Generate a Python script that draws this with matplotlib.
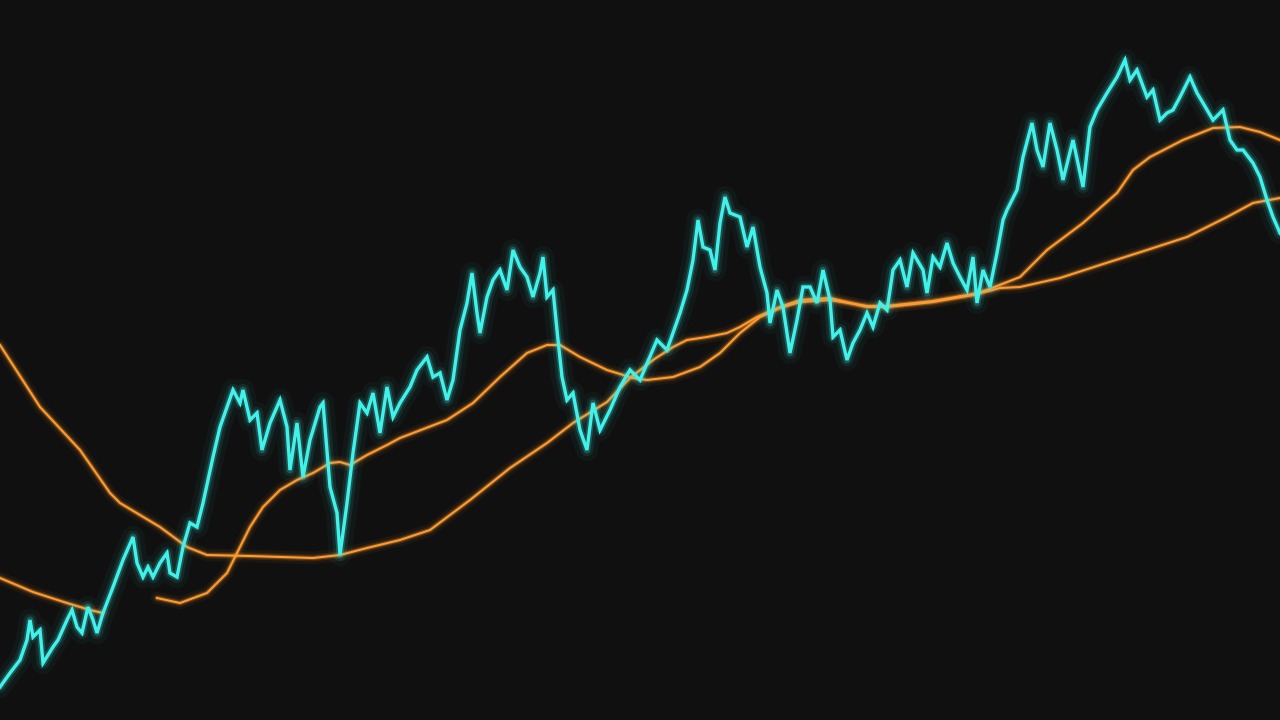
import matplotlib
matplotlib.use("Agg")
import matplotlib.pyplot as plt

# price trace (x position, screen height; axis is inverted)
price_x = [0, 10, 20, 27, 30, 33, 40, 43, 53, 58, 67, 72, 77, 82, 88, 93, 97, 103,
           113, 123, 133, 137, 143, 148, 153, 160, 167, 170, 177, 183, 190, 197, 203,
           208, 213, 220, 227, 233, 240, 243, 250, 257, 262, 270, 280, 287, 290, 297,
           303, 310, 320, 323, 330, 337, 340, 347, 353, 360, 367, 373, 380, 387, 393,
           400, 410, 417, 427, 433, 440, 447, 453, 460, 467, 472, 477, 480, 487, 493,
           500, 507, 513, 520, 527, 533, 540, 543, 547, 553, 558, 562, 567, 573, 580,
           587, 593, 600, 610, 620, 630, 640, 657, 667, 680, 687, 693, 698, 703, 710,
           715, 720, 725, 730, 740, 747, 753, 760, 767, 770, 777, 783, 790, 797, 803,
           810, 817, 823, 830, 833, 840, 847, 853, 860, 867, 873, 880, 887, 893, 900,
           907, 913, 923, 927, 933, 940, 947, 953, 960, 967, 973, 977, 983, 990, 997,
           1003, 1007, 1017, 1023, 1032, 1037, 1043, 1050, 1057, 1063, 1073, 1083, 1090,
           1097, 1107, 1117, 1125, 1130, 1137, 1147, 1153, 1160, 1167, 1173, 1180, 1190,
           1197, 1203, 1213, 1223, 1230, 1237, 1243, 1253, 1260, 1267, 1273, 1280]
price_y = [687, 673, 660, 640, 620, 637, 630, 663, 647, 640, 620, 610, 627, 633, 607, 620, 633, 613,
           587, 560, 537, 563, 577, 567, 577, 563, 553, 573, 577, 547, 523, 527, 503,
           480, 457, 427, 407, 390, 403, 390, 420, 413, 450, 423, 400, 427, 470, 423,
           477, 440, 407, 403, 487, 513, 555, 503, 453, 403, 413, 393, 433, 387, 417,
           403, 387, 370, 357, 377, 373, 400, 380, 330, 303, 273, 313, 333, 297, 280,
           270, 290, 250, 267, 277, 297, 273, 257, 297, 290, 340, 377, 400, 393, 430,
           450, 403, 430, 410, 387, 370, 380, 340, 350, 313, 290, 260, 220, 247, 250,
           270, 223, 197, 213, 217, 247, 227, 267, 293, 323, 290, 307, 353, 320, 287,
           287, 303, 270, 300, 337, 330, 360, 343, 330, 313, 327, 303, 310, 270, 260,
           287, 253, 270, 293, 257, 267, 243, 263, 277, 290, 257, 303, 270, 287, 253,
           220, 210, 190, 157, 123, 150, 167, 123, 150, 180, 140, 187, 127,
           110, 93, 77, 60, 80, 70, 97, 90, 120, 113, 110, 97, 77,
           93, 103, 120, 110, 140, 150, 150, 163, 177, 200, 217, 233]

# slow moving average (starts top left)
slow_x = [0, 40, 80, 110, 120, 160, 187, 207, 250, 313, 340, 367, 400, 430, 470, 510,
          547, 573, 607, 630, 653, 673, 687, 707, 727, 740, 757, 780, 800, 830, 867,
          887, 933, 973, 1000, 1020, 1060, 1100, 1147, 1187, 1227, 1253, 1280]
slow_y = [345, 407, 450, 493, 503, 527, 547, 555, 556, 558, 555, 548, 540, 530, 500, 468,
          443, 423, 402, 378, 360, 347, 340, 337, 333, 327, 317, 307, 300, 298, 307,
          307, 302, 295, 288, 287, 278, 265, 250, 237, 217, 203, 198]

# fast moving average (starts near bottom left)
fast_x = [157, 180, 207, 227, 250, 263, 280, 297, 313, 330, 340, 350, 367, 387, 400,
          447, 473, 500, 527, 547, 560, 580, 607, 633, 647, 673, 700, 720, 740, 760,
          780, 800, 830, 867, 887, 933, 973, 987, 1020, 1047, 1083, 1117, 1133, 1150,
          1183, 1213, 1240, 1260, 1280]
fast_y = [598, 603, 593, 573, 527, 507, 490, 480, 473, 463, 462, 465, 455, 445, 438,
          420, 403, 377, 353, 345, 345, 357, 370, 378, 380, 377, 367, 353, 333, 317,
          308, 302, 300, 306, 306, 301, 294, 290, 277, 250, 223, 193, 170, 157,
          140, 128, 127, 132, 140]

# short earlier average segment at bottom left
early_x = [0, 33, 67, 90, 103]
early_y = [578, 592, 603, 610, 613]

bg = "#101010"
cyan = "#40f2ea"
orange = "#ff9a2e"

fig = plt.figure(figsize=(12.8, 7.2), dpi=100, facecolor=bg)
ax = fig.add_axes([0, 0, 1, 1])
ax.set_facecolor(bg)


def glow_line(x, y, color, core_lw, glow):
    for lw, a in glow:
        ax.plot(x, y, color=color, lw=lw, alpha=a, solid_capstyle="round",
                solid_joinstyle="round")
    ax.plot(x, y, color=color, lw=core_lw, solid_joinstyle="miter")


orange_glow = [(9, 0.05), (5, 0.12), (3, 0.3)]
glow_line(early_x, early_y, orange, 1.5, orange_glow)
glow_line(slow_x, slow_y, orange, 1.5, orange_glow)
glow_line(fast_x, fast_y, orange, 1.5, orange_glow)
glow_line(price_x, price_y, cyan, 2.4, [(16, 0.04), (9, 0.09), (5, 0.22)])

ax.set_xlim(0, 1280)
ax.set_ylim(720, 0)
ax.axis("off")

fig.savefig("out.png", dpi=100, facecolor=bg)
